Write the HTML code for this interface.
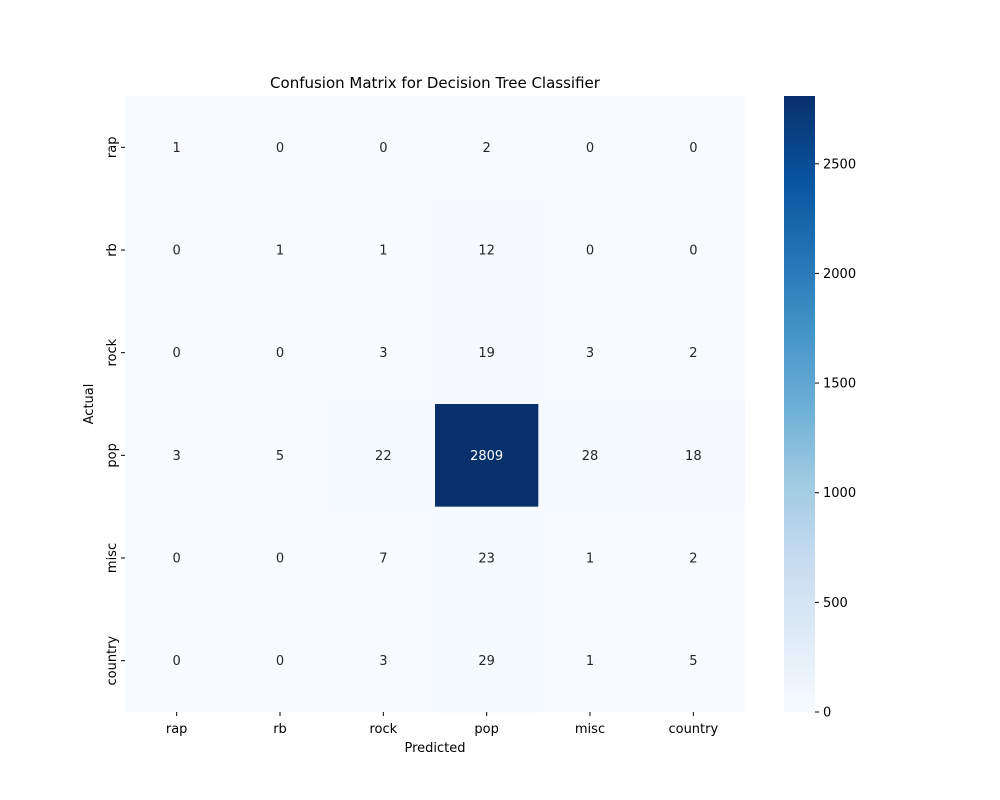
<!DOCTYPE html>
<html><head><meta charset="utf-8">
<style>
html,body{margin:0;padding:0;background:#fff;}
svg{display:block;font-family:"DejaVu Sans","Liberation Sans",sans-serif;}
</style></head>
<body>
<svg id="chart" width="1000" height="800" viewBox="0 0 1000 800" xmlns="http://www.w3.org/2000/svg">
<defs>
<linearGradient id="cbgrad" x1="0" y1="1" x2="0" y2="0">
<stop offset="0" stop-color="#f7fbff"/>
<stop offset="0.125" stop-color="#deebf7"/>
<stop offset="0.25" stop-color="#c6dbef"/>
<stop offset="0.375" stop-color="#9ecae1"/>
<stop offset="0.5" stop-color="#6baed6"/>
<stop offset="0.625" stop-color="#4292c6"/>
<stop offset="0.75" stop-color="#2171b5"/>
<stop offset="0.875" stop-color="#08519c"/>
<stop offset="1" stop-color="#08306b"/>
</linearGradient>
</defs>
<text x="435" y="88" text-anchor="middle" font-size="15">Confusion Matrix for Decision Tree Classifier</text>
<g id="cells"></g>
<g id="axes"></g>
<rect x="784" y="96" width="31" height="616" fill="url(#cbgrad)"/>
<g id="cbticks"></g>
<text x="435" y="752" text-anchor="middle" font-size="13">Predicted</text>
<text transform="translate(93,404) rotate(-90)" text-anchor="middle" font-size="13">Actual</text>
</svg>
<script>
const categories = ["rap","rb","rock","pop","misc","country"];
const matrix = [
  [1,0,0,2,0,0],
  [0,1,1,12,0,0],
  [0,0,3,19,3,2],
  [3,5,22,2809,28,18],
  [0,0,7,23,1,2],
  [0,0,3,29,1,5]
];
const cbTicks = [0,500,1000,1500,2000,2500];

const NS="http://www.w3.org/2000/svg";
const X0=125,X1=745,Y0=96,Y1=712;
const n=categories.length, cw=(X1-X0)/n, ch=(Y1-Y0)/n;
let vmax=0; matrix.forEach(r=>r.forEach(v=>{if(v>vmax)vmax=v;}));
const stops=["#f7fbff","#deebf7","#c6dbef","#9ecae1","#6baed6","#4292c6","#2171b5","#08519c","#08306b"].map(h=>[parseInt(h.substr(1,2),16),parseInt(h.substr(3,2),16),parseInt(h.substr(5,2),16)]);
function blues(t){t=Math.max(0,Math.min(1,t));const p=t*(stops.length-1);const i=Math.min(Math.floor(p),stops.length-2);const f=p-i;
 const c=stops[i].map((a,k)=>Math.round(a+(stops[i+1][k]-a)*f));return `rgb(${c[0]},${c[1]},${c[2]})`;}
function mk(tag,attrs,parent){const e=document.createElementNS(NS,tag);for(const k in attrs)e.setAttribute(k,attrs[k]);parent.appendChild(e);return e;}
const xScale=j=>X0+j*cw, yScale=i=>Y0+i*ch;
const cells=document.getElementById('cells'), axes=document.getElementById('axes'), cbt=document.getElementById('cbticks');
matrix.forEach((row,i)=>row.forEach((v,j)=>{
  const r=mk('rect',{x:xScale(j),y:yScale(i),width:cw+0.5,height:ch+0.5,fill:blues(v/vmax)},cells);
  
  
  const t=mk('text',{x:xScale(j)+cw/2,y:yScale(i)+ch/2+4.5,'text-anchor':'middle','font-size':'13',fill:v>vmax/2?'#fff':'#262626'},cells);
  t.textContent=v;
  
  
}));
categories.forEach((c,j)=>{
  const x=xScale(j)+cw/2;
  mk('line',{x1:x,x2:x,y1:Y1,y2:Y1+4,stroke:'#000','stroke-width':1},axes);
  const t=mk('text',{x:x,y:Y1+21,'text-anchor':'middle','font-size':'13'},axes);
  t.textContent=c;
  
  
  const y=yScale(j)+ch/2;
  mk('line',{x1:X0-4,x2:X0,y1:y,y2:y,stroke:'#000','stroke-width':1},axes);
  const u=mk('text',{transform:`translate(${X0-9},${y}) rotate(-90)`,'text-anchor':'middle','font-size':'13'},axes);
  u.textContent=c;
  
  
});
cbTicks.forEach(v=>{
  const y=712-v/vmax*616;
  mk('line',{x1:815,x2:819,y1:y,y2:y,stroke:'#000','stroke-width':1},cbt);
  const t=mk('text',{x:823,y:y+4.5,'font-size':'13'},cbt);
  t.textContent=v;
  
  
});
</script>
</body></html>
